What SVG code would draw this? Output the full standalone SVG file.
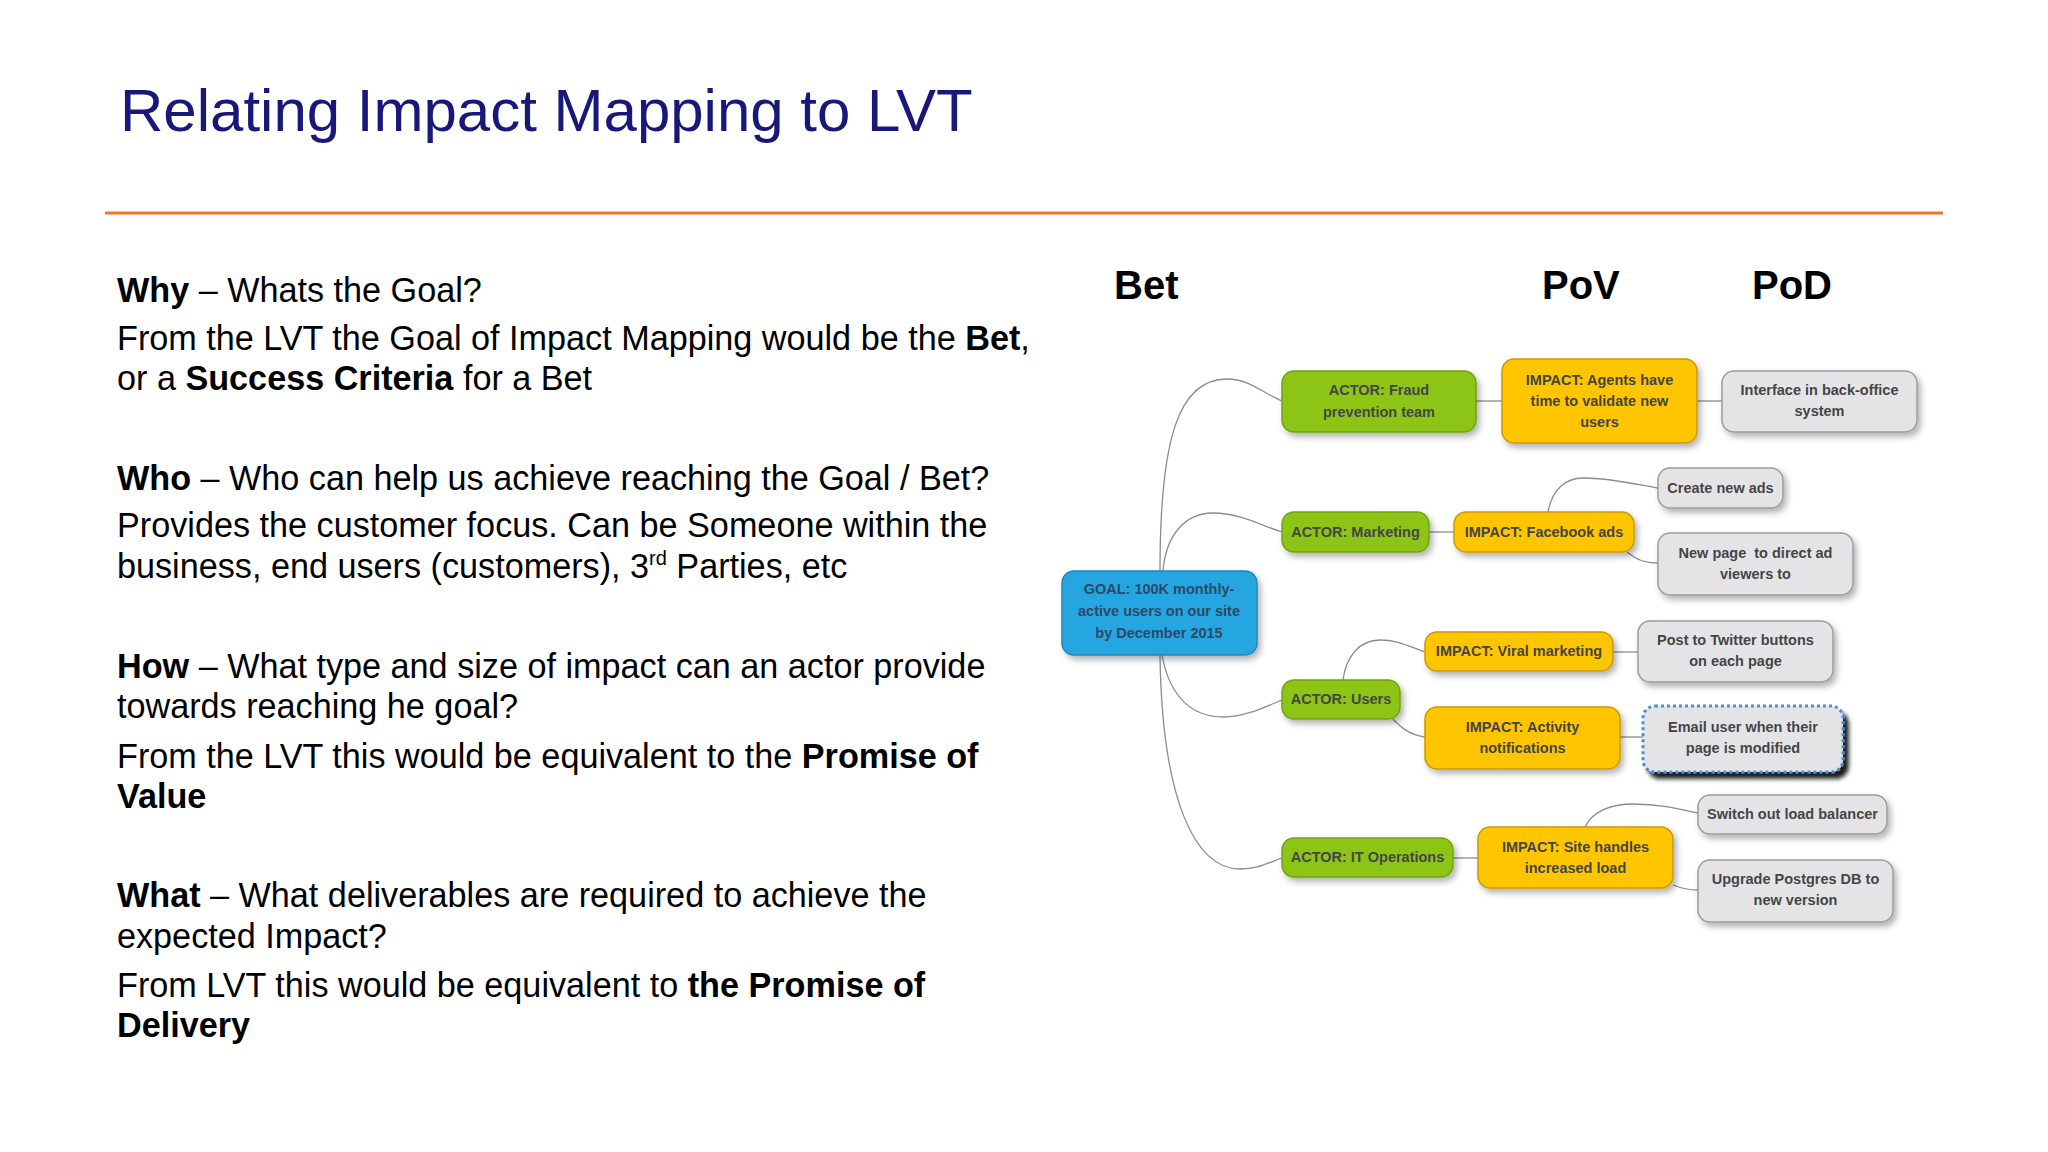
<svg xmlns="http://www.w3.org/2000/svg" width="2048" height="1152" viewBox="0 0 2048 1152">
<defs>
<filter id="sh" x="-20%" y="-30%" width="150%" height="170%">
<feDropShadow dx="3" dy="4" stdDeviation="3" flood-color="#000" flood-opacity="0.3"/>
</filter>
<filter id="shk" x="-20%" y="-30%" width="150%" height="170%">
<feDropShadow dx="5" dy="6" stdDeviation="2" flood-color="#000" flood-opacity="0.9"/>
</filter>
</defs>
<style>
.body{font-family:"Liberation Sans",Arial,sans-serif;font-size:34.2px;fill:#000}
.b{font-weight:bold}
.title{font-family:"Liberation Sans",Arial,sans-serif;font-size:60px;fill:#18187a}
.hdr{font-family:"Liberation Sans",Arial,sans-serif;font-size:40px;font-weight:bold;fill:#000}
.nt{font-family:"Liberation Sans",Arial,sans-serif;font-size:14.5px;font-weight:bold;fill:#454545;text-anchor:middle}
.gt{fill:#2c4a68}
.goal{fill:#27a6e0;stroke:#1f86b8;stroke-width:1.5;filter:url(#sh)}
.actor{fill:#8dc515;stroke:#72a30e;stroke-width:1.5;filter:url(#sh)}
.impact{fill:#ffc603;stroke:#c99a00;stroke-width:1.5;filter:url(#sh)}
.del{fill:#e4e4e7;stroke:#9c9c9c;stroke-width:1.5;filter:url(#sh)}
.sel{fill:#e4e4e7;stroke:#4a8fd8;stroke-width:3;stroke-dasharray:3 3;filter:url(#shk)}
.con{fill:none;stroke:#8c8c8c;stroke-width:1.3}
</style>
<rect width="2048" height="1152" fill="#ffffff"/>
<text class="title" x="120" y="131">Relating Impact Mapping to LVT</text>
<line x1="105" y1="213" x2="1943" y2="213" stroke="#ee7624" stroke-width="3"/>

<g id="left-text">
<text class="body" x="117" y="302"><tspan class="b">Why</tspan> – Whats the Goal?</text>
<text class="body" x="117" y="350">From the LVT the Goal of Impact Mapping would be the <tspan class="b">Bet</tspan>,</text>
<text class="body" x="117" y="390">or a <tspan class="b">Success Criteria</tspan> for a Bet</text>
<text class="body" x="117" y="490"><tspan class="b">Who</tspan> – Who can help us achieve reaching the Goal / Bet?</text>
<text class="body" x="117" y="537">Provides the customer focus. Can be Someone within the</text>
<text class="body" x="117" y="578">business, end users (customers), 3<tspan font-size="20" dy="-13">rd</tspan><tspan dy="13"> Parties, etc</tspan></text>
<text class="body" x="117" y="678"><tspan class="b">How</tspan> – What type and size of impact can an actor provide</text>
<text class="body" x="117" y="718">towards reaching he goal?</text>
<text class="body" x="117" y="768">From the LVT this would be equivalent to the <tspan class="b">Promise of</tspan></text>
<text class="body b" x="117" y="808">Value</text>
<text class="body" x="117" y="907"><tspan class="b">What</tspan> – What deliverables are required to achieve the</text>
<text class="body" x="117" y="948">expected Impact?</text>
<text class="body" x="117" y="997">From LVT this would be equivalent to <tspan class="b">the Promise of</tspan></text>
<text class="body b" x="117" y="1037">Delivery</text>
</g>

<g id="headers">
<text class="hdr" x="1114" y="299">Bet</text>
<text class="hdr" x="1542" y="299">PoV</text>
<text class="hdr" x="1752" y="299">PoD</text>
</g>

<g id="connectors">
<path class="con" d="M1160 571 C1160 440 1178 379 1227 379 C1250 379 1264 394 1282 401"/>
<path class="con" d="M1163 571 C1166 535 1185 513 1213 513 C1240 513 1260 525 1282 532"/>
<path class="con" d="M1162 655 C1170 700 1195 717 1223 717 C1245 717 1265 707 1282 700"/>
<path class="con" d="M1160 655 C1162 800 1195 869 1240 869 C1258 869 1270 862 1282 858"/>
<path class="con" d="M1476 401 L1502 401"/>
<path class="con" d="M1697 401 L1722 401"/>
<path class="con" d="M1429 532 L1454 532"/>
<path class="con" d="M1548 512 C1552 490 1565 478 1583 478 C1610 478 1635 484 1658 488"/>
<path class="con" d="M1627 552 C1637 560 1645 563 1658 563"/>
<path class="con" d="M1343 680 C1346 656 1360 640 1380 640 C1398 640 1410 647 1425 652"/>
<path class="con" d="M1393 719 C1403 730 1412 735 1425 737"/>
<path class="con" d="M1613 652 L1638 652"/>
<path class="con" d="M1620 737 L1643 737"/>
<path class="con" d="M1453 858 L1478 858"/>
<path class="con" d="M1585 827 C1592 812 1610 804 1633 804 C1660 804 1680 809 1698 813"/>
<path class="con" d="M1673 885 C1683 889 1690 890 1698 890"/>
</g>

<g id="goal">
<rect class="goal" x="1062" y="571" width="195" height="84" rx="12"/>
<text class="nt gt" x="1159" y="594">GOAL: 100K monthly-</text>
<text class="nt gt" x="1159" y="616">active users on our site</text>
<text class="nt gt" x="1159" y="638">by December 2015</text>
</g>

<g id="actor-fraud">
<rect class="actor" x="1282" y="371" width="194" height="61" rx="12"/>
<text class="nt" x="1379" y="395">ACTOR: Fraud</text>
<text class="nt" x="1379" y="417">prevention team</text>
</g>
<g id="actor-marketing">
<rect class="actor" x="1282" y="512" width="147" height="40" rx="12"/>
<text class="nt" x="1355.5" y="537">ACTOR: Marketing</text>
</g>
<g id="actor-users">
<rect class="actor" x="1282" y="680" width="118" height="39" rx="12"/>
<text class="nt" x="1341" y="704">ACTOR: Users</text>
</g>
<g id="actor-it">
<rect class="actor" x="1282" y="838" width="171" height="39" rx="12"/>
<text class="nt" x="1367.5" y="862">ACTOR: IT Operations</text>
</g>

<g id="impact-agents">
<rect class="impact" x="1502" y="359" width="195" height="84" rx="12"/>
<text class="nt" x="1599.5" y="385">IMPACT: Agents have</text>
<text class="nt" x="1599.5" y="406">time to validate new</text>
<text class="nt" x="1599.5" y="427">users</text>
</g>
<g id="impact-facebook">
<rect class="impact" x="1454" y="512" width="180" height="40" rx="12"/>
<text class="nt" x="1544" y="537">IMPACT: Facebook ads</text>
</g>
<g id="impact-viral">
<rect class="impact" x="1425" y="632" width="188" height="39" rx="12"/>
<text class="nt" x="1519" y="656">IMPACT: Viral marketing</text>
</g>
<g id="impact-activity">
<rect class="impact" x="1425" y="707" width="195" height="62" rx="12"/>
<text class="nt" x="1522.5" y="732">IMPACT: Activity</text>
<text class="nt" x="1522.5" y="753">notifications</text>
</g>
<g id="impact-site">
<rect class="impact" x="1478" y="827" width="195" height="61" rx="12"/>
<text class="nt" x="1575.5" y="852">IMPACT: Site handles</text>
<text class="nt" x="1575.5" y="873">increased load</text>
</g>

<g id="del-interface">
<rect class="del" x="1722" y="371" width="195" height="61" rx="12"/>
<text class="nt" x="1819.5" y="395">Interface in back-office</text>
<text class="nt" x="1819.5" y="416">system</text>
</g>
<g id="del-create-ads">
<rect class="del" x="1658" y="468" width="125" height="40" rx="12"/>
<text class="nt" x="1720.5" y="493">Create new ads</text>
</g>
<g id="del-new-page">
<rect class="del" x="1658" y="533" width="195" height="62" rx="12"/>
<text class="nt" x="1755.5" y="558" style="white-space:pre">New page  to direct ad</text>
<text class="nt" x="1755.5" y="579">viewers to</text>
</g>
<g id="del-twitter">
<rect class="del" x="1638" y="621" width="195" height="61" rx="12"/>
<text class="nt" x="1735.5" y="645">Post to Twitter buttons</text>
<text class="nt" x="1735.5" y="666">on each page</text>
</g>
<g id="del-email">
<rect class="sel" x="1643" y="706" width="200" height="66" rx="12"/>
<text class="nt" x="1743" y="732">Email user when their</text>
<text class="nt" x="1743" y="753">page is modified</text>
</g>
<g id="del-switch">
<rect class="del" x="1698" y="795" width="189" height="39" rx="12"/>
<text class="nt" x="1792.5" y="819">Switch out load balancer</text>
</g>
<g id="del-upgrade">
<rect class="del" x="1698" y="860" width="195" height="62" rx="12"/>
<text class="nt" x="1795.5" y="884">Upgrade Postgres DB to</text>
<text class="nt" x="1795.5" y="905">new version</text>
</g>
</svg>
